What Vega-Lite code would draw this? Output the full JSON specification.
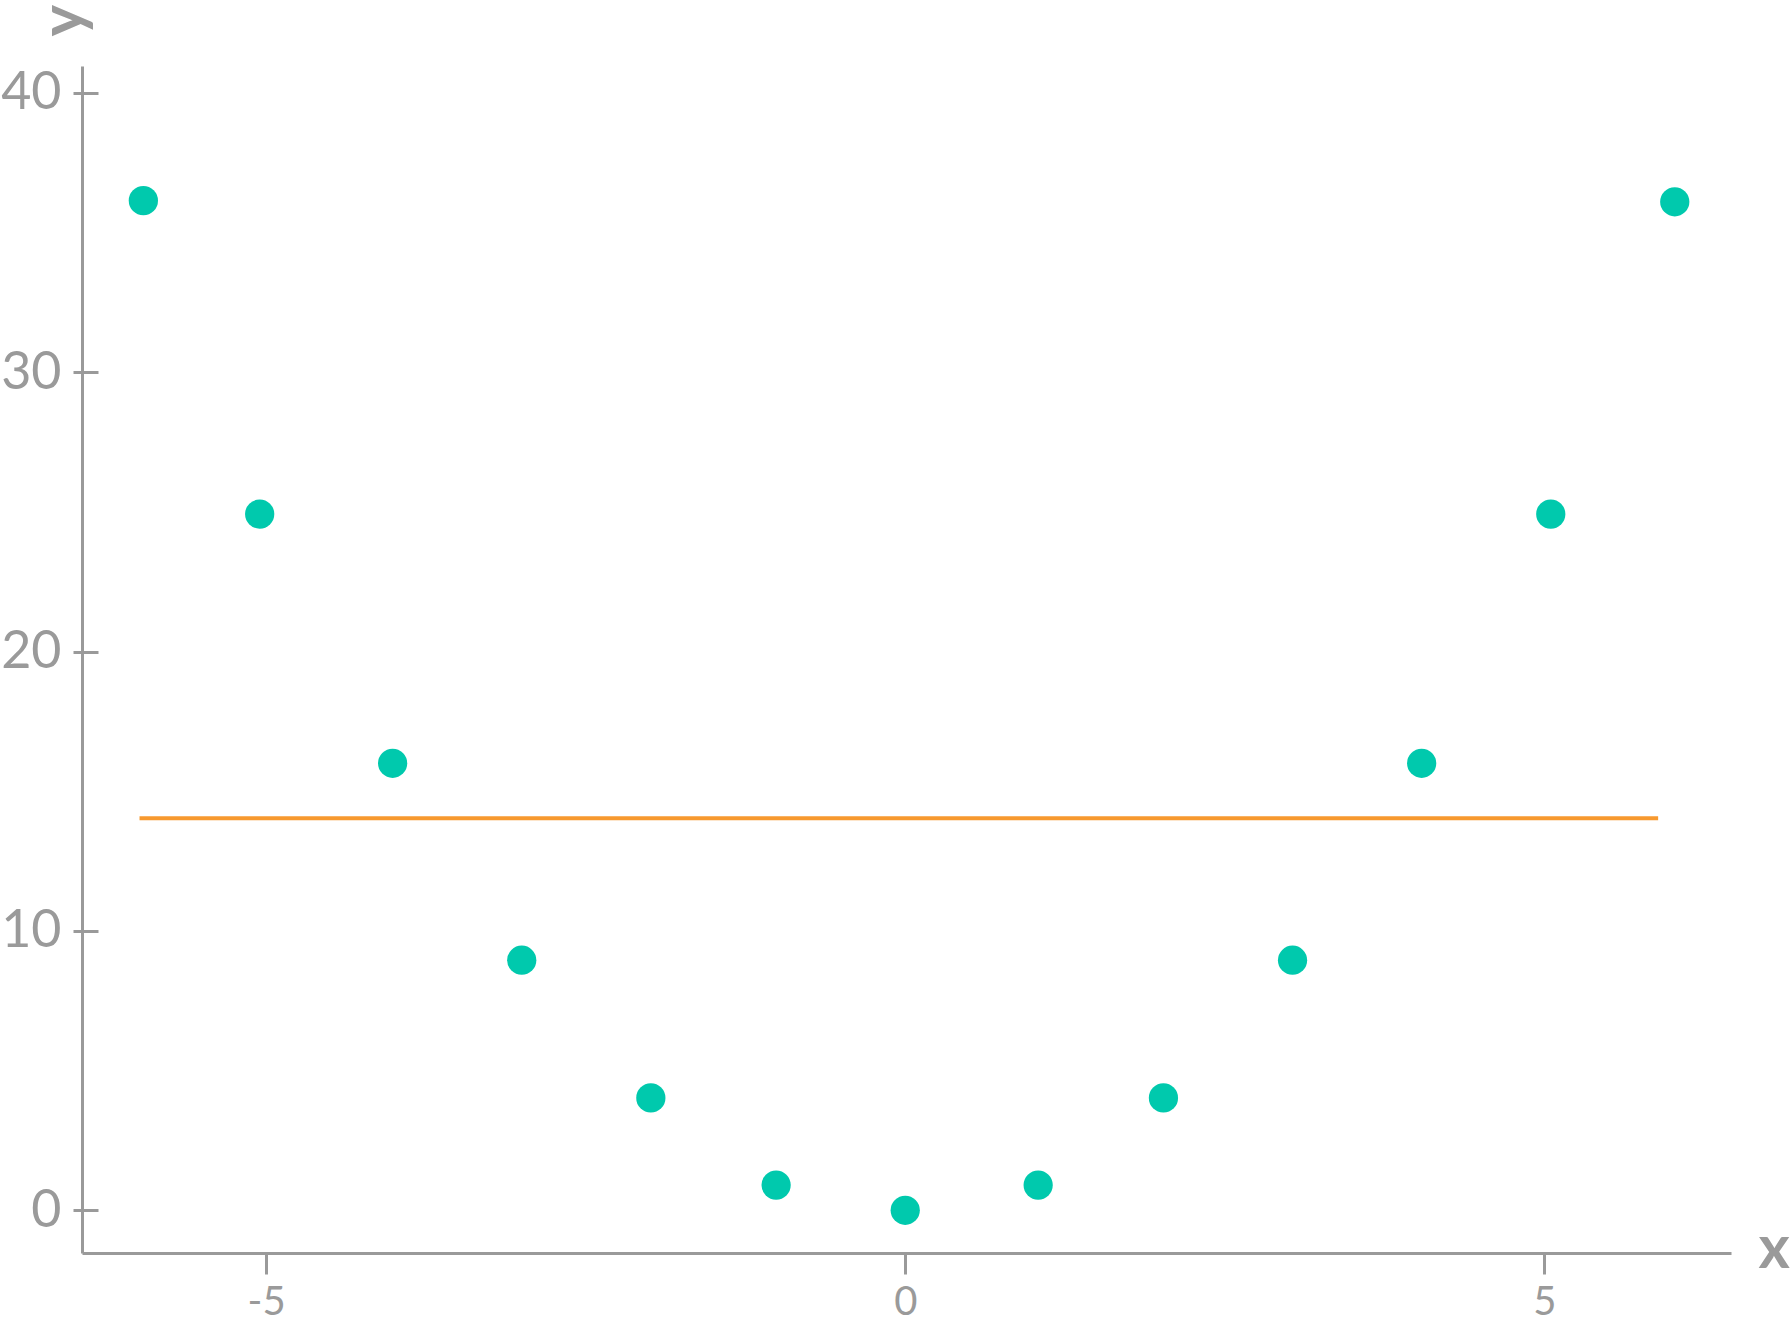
{
  "$schema": "https://vega.github.io/schema/vega-lite/v6.json",
  "autosize": "none",
  "width": 1649,
  "height": 1187,
  "padding": {"left": 82, "top": 66, "right": 61, "bottom": 78},
  "background": "white",
  "config": {
    "view": {"stroke": null},
    "axis": {"grid": false, "domainColor": "#9a9a9a", "tickColor": "#9a9a9a", "labelColor": "#9a9a9a", "titleColor": "#9a9a9a", "domainWidth": 3, "tickWidth": 3, "labelFont": "Lato", "titleFont": "Lato", "labelFontWeight": "normal", "titleFontWeight": "bold"}
  },
  "resolve": {"axis": {"y": "independent"}},
  "layer": [
    {
      "data": {"values": [
        {"x": -5.96, "y": 36.14}, {"x": -5.05, "y": 24.92}, {"x": -4.01, "y": 16.0}, {"x": -3.0, "y": 8.95},
        {"x": -1.99, "y": 4.02}, {"x": -1.01, "y": 0.9}, {"x": 0, "y": 0}, {"x": 1.04, "y": 0.9},
        {"x": 2.02, "y": 4.02}, {"x": 3.03, "y": 8.95}, {"x": 4.04, "y": 16.0}, {"x": 5.05, "y": 24.92}, {"x": 6.02, "y": 36.1}
      ]},
      "mark": {"type": "circle", "size": 855, "color": "#00c9ad", "opacity": 1},
      "encoding": {
        "x": {"field": "x", "type": "quantitative",
          "scale": {"domain": [-6.44, 6.46], "nice": false, "zero": false},
          "axis": {"values": [-5, 0, 5], "labelExpr": "toString(datum.value)", "tickSize": 21, "labelFontSize": 40, "labelPadding": 8, "labelFlush": false,
            "title": "x", "titleFontSize": 60, "titleAnchor": null, "titleAlign": "left", "titleBaseline": "alphabetic", "titleX": 1676, "titleY": 14}},
        "y": {"field": "y", "type": "quantitative",
          "scale": {"domain": [-1.53, 40.96], "nice": false, "zero": false},
          "axis": {"orient": "left", "values": [0, 10, 20, 30, 40], "labelExpr": "toString(datum.value)", "tickSize": 9, "labelFontSize": 52, "labelPadding": 12, "labelFlush": false,
            "title": "y", "titleFontSize": 60, "titleAngle": 270, "titleAnchor": null, "titleAlign": "left", "titleBaseline": "alphabetic", "titleX": 0, "titleY": -30}}
      }
    },
    {
      "data": {"values": [{"x": -5.99, "y": 14.03}, {"x": 5.89, "y": 14.03}]},
      "mark": {"type": "line", "color": "#f7992f", "strokeWidth": 4},
      "encoding": {
        "x": {"field": "x", "type": "quantitative"},
        "y": {"field": "y", "type": "quantitative",
          "axis": {"orient": "left", "values": [0, 10, 20, 30, 40], "tickSize": -16, "labels": false, "domain": false, "title": null}}
      }
    }
  ]
}
